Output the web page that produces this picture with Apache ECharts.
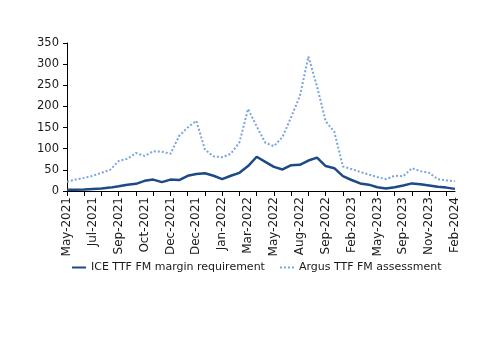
<!DOCTYPE html>
<html>
<head>
<meta charset="utf-8">
<script src="https://cdn.jsdelivr.net/npm/echarts@6/dist/echarts.min.js"></script>
<style>
  html, body { margin: 0; padding: 0; background: #fff; }
  #chart { width: 500px; height: 353px; }
</style>
</head>
<body>
<div id="chart"></div>
<script>
// one category per data point; only every third one is labelled on the axis
const categories = [
  'May-2021', 'Jun-2021', 'Jun-2021', 'Jul-2021', 'Aug-2021', 'Aug-2021',
  'Sep-2021', 'Sep-2021', 'Oct-2021', 'Oct-2021', 'Nov-2021', 'Nov-2021',
  'Dec-2021', 'Dec-2021', 'Dec-2021', 'Dec-2021', 'Dec-2021', 'Jan-2022',
  'Jan-2022', 'Feb-2022', 'Feb-2022', 'Mar-2022', 'Mar-2022', 'Apr-2022',
  'May-2022', 'Jun-2022', 'Jul-2022', 'Aug-2022', 'Aug-2022', 'Sep-2022',
  'Sep-2022', 'Oct-2022', 'Dec-2022', 'Feb-2023', 'Mar-2023', 'Apr-2023',
  'May-2023', 'Jun-2023', 'Aug-2023', 'Sep-2023', 'Oct-2023', 'Oct-2023',
  'Nov-2023', 'Dec-2023', 'Jan-2024', 'Feb-2024'
]

const iceMargin = [
  3, 3, 3.5, 5, 6, 8, 11, 15, 17, 24, 27, 21, 27, 26, 36, 40, 42, 36, 28, 36,
  43, 59, 81, 69, 57, 51, 61, 62, 72, 79, 59, 54, 35, 26, 18, 15, 9, 6, 9, 13,
  18, 16, 13, 10, 8, 5
]

const argusAssessment = [
  22, 27, 31, 36, 43, 50, 71, 76, 90, 83, 94, 93, 88, 130, 150, 166, 98, 82, 80, 88,
  115, 194, 153, 114, 106, 128, 175, 224, 318, 247, 165, 140, 58, 52, 45, 39, 33, 28, 36, 35,
  54, 47, 43, 28, 25, 23
]

const yTicks = { min: 0, max: 350, interval: 50 }

const font = 'DejaVu Sans'
const textColor = '#1a1a1a'

const chart = echarts.init(document.getElementById('chart'), null, { renderer: 'canvas' })

chart.setOption({
  animation: false,
  textStyle: { fontFamily: font },
  grid: { left: 67, right: 45, top: 43, bottom: 162, containLabel: false },
  legend: {
    left: 66,
    top: 257,
    itemWidth: 14,
    itemHeight: 10,
    itemGap: 14,
    itemStyle: { opacity: 0 },
    textStyle: { fontFamily: font, fontSize: 11, color: textColor },
    data: ['ICE TTF FM margin requirement', 'Argus TTF FM assessment']
  },
  xAxis: {
    type: 'category',
    data: categories,
    boundaryGap: false,
    axisLine: { lineStyle: { color: '#000', width: 1 } },
    axisTick: { show: true, interval: 1, length: 5, lineStyle: { color: '#000' } },
    axisLabel: {
      interval: 2,
      rotate: 90,
      margin: 6,
      fontFamily: font,
      fontSize: 12,
      color: textColor
    }
  },
  yAxis: {
    type: 'value',
    min: yTicks.min,
    max: yTicks.max,
    interval: yTicks.interval,
    splitLine: { show: false },
    axisLine: { show: true, lineStyle: { color: '#000', width: 1 } },
    axisTick: { show: true, length: 4, lineStyle: { color: '#000' } },
    axisLabel: { fontFamily: font, fontSize: 11.5, color: textColor, margin: 8 }
  },
  series: [
    {
      name: 'ICE TTF FM margin requirement',
      type: 'line',
      data: iceMargin,
      symbol: 'none',
      lineStyle: { color: '#1d4a87', width: 2.5 },
      itemStyle: { color: '#1d4a87' }
    },
    {
      name: 'Argus TTF FM assessment',
      type: 'line',
      data: argusAssessment,
      symbol: 'none',
      lineStyle: { color: '#79a4e0', width: 2, type: [2, 2] },
      itemStyle: { color: '#79a4e0' }
    }
  ]
})
</script>
</body>
</html>
